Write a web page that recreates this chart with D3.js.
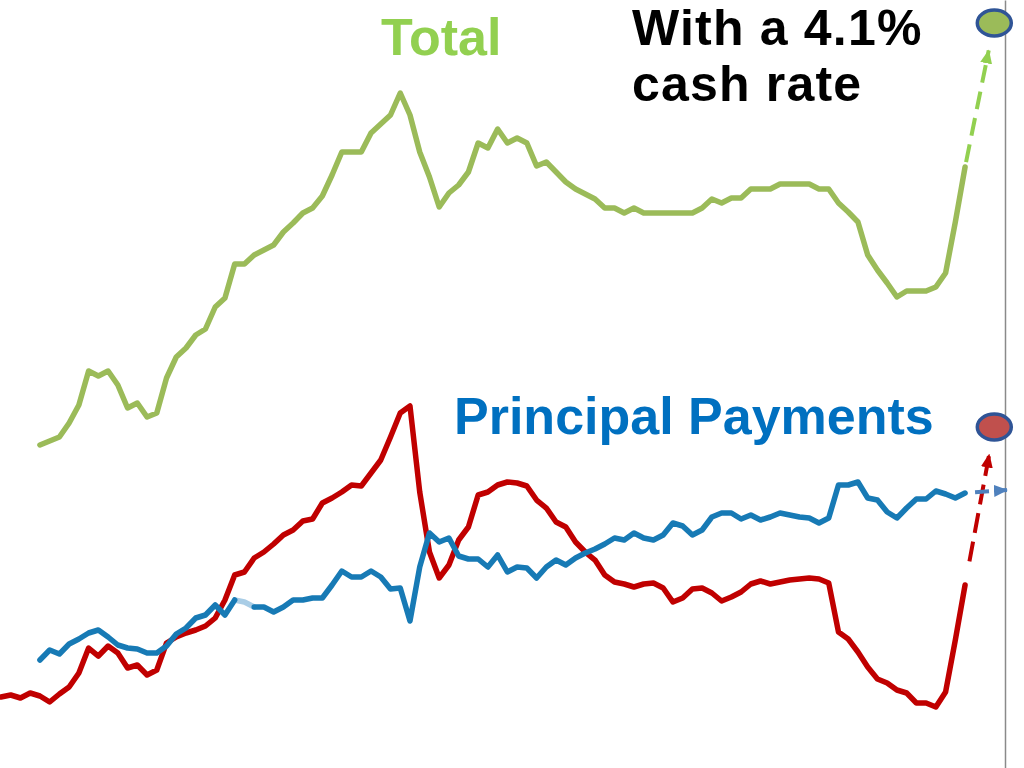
<!DOCTYPE html>
<html>
<head>
<meta charset="utf-8">
<script src="https://cdn.jsdelivr.net/npm/d3@7"></script>
<style>
  body { margin: 0; background: #fff; }
  svg { display: block; }
</style>
</head>
<body>
<div id="chart"></div>
<script>
// household debt servicing, % of income, one value per quarter
// quarter 0 = first quarter of the total / principal series,
// the interest series starts 4 quarters earlier
var interestStart = -4;

var total = [
  9.30, 9.38, 9.46, 9.74, 10.10, 10.78, 10.68, 10.78, 10.50, 10.04,
  10.14, 9.86, 9.94, 10.64, 11.06, 11.24, 11.50, 11.62, 12.06, 12.24,
  12.92, 12.92, 13.10, 13.20, 13.30, 13.56, 13.74, 13.94, 14.04, 14.28,
  14.70, 15.16, 15.16, 15.16, 15.54, 15.72, 15.90, 16.34, 15.90, 15.16,
  14.66, 14.06, 14.34, 14.50, 14.76, 15.34, 15.24, 15.62, 15.34, 15.44,
  15.34, 14.88, 14.96, 14.76, 14.56, 14.42, 14.32, 14.22, 14.04, 14.04,
  13.94, 14.04, 13.94, 13.94, 13.94, 13.94, 13.94, 13.94, 14.04, 14.22,
  14.14, 14.24, 14.24, 14.42, 14.42, 14.42, 14.52, 14.52, 14.52, 14.52,
  14.42, 14.42, 14.14, 13.96, 13.76, 13.10, 12.80, 12.54, 12.26, 12.38,
  12.38, 12.38, 12.46, 12.74, 13.76, 14.86
];

var interest = [
  4.26, 4.30, 4.24, 4.34,
  4.28, 4.16, 4.32, 4.46, 4.74, 5.24, 5.08, 5.28, 5.14, 4.84,
  4.90, 4.70, 4.80, 5.34, 5.46, 5.54, 5.60, 5.68, 5.84, 6.20,
  6.70, 6.76, 7.04, 7.16, 7.32, 7.50, 7.60, 7.78, 7.82, 8.14,
  8.24, 8.36, 8.50, 8.48, 8.74, 9.00, 9.46, 9.94, 10.08, 8.36,
  7.16, 6.64, 6.90, 7.40, 7.66, 8.30, 8.36, 8.50, 8.56, 8.54,
  8.48, 8.20, 8.04, 7.76, 7.66, 7.36, 7.16, 7.00, 6.70, 6.56,
  6.52, 6.46, 6.52, 6.54, 6.44, 6.16, 6.24, 6.42, 6.44, 6.34,
  6.18, 6.26, 6.36, 6.52, 6.58, 6.52, 6.56, 6.60, 6.62, 6.64,
  6.62, 6.54, 5.56, 5.42, 5.16, 4.86, 4.62, 4.54, 4.40, 4.34,
  4.14, 4.14, 4.06, 4.36, 5.40, 6.50
];

var principal = [
  5.00, 5.20, 5.12, 5.32, 5.42, 5.54, 5.60, 5.46, 5.30, 5.24,
  5.22, 5.14, 5.14, 5.28, 5.52, 5.64, 5.84, 5.90, 6.10, 5.90,
  6.20, 6.16, 6.06, 6.06, 5.96, 6.06, 6.20, 6.20, 6.24, 6.24,
  6.50, 6.78, 6.66, 6.66, 6.78, 6.66, 6.42, 6.44, 5.78, 6.86,
  7.54, 7.36, 7.44, 7.08, 7.02, 7.02, 6.86, 7.10, 6.76, 6.86,
  6.84, 6.64, 6.86, 7.00, 6.90, 7.04, 7.14, 7.22, 7.32, 7.44,
  7.40, 7.54, 7.44, 7.40, 7.50, 7.74, 7.68, 7.50, 7.60, 7.86,
  7.94, 7.94, 7.82, 7.90, 7.80, 7.86, 7.94, 7.90, 7.86, 7.84,
  7.74, 7.84, 8.50, 8.50, 8.56, 8.24, 8.20, 7.96, 7.84, 8.04,
  8.22, 8.22, 8.38, 8.32, 8.24, 8.34
];

// quarters where the principal series has a break (drawn pale)
var principalBreak = [20, 22];

// projections with a 4.1% cash rate
var projQuarter = 98;
var projTotal = 17.74;
var projInterest = 9.66;
var principalProjQuarter = 99.3;
var projPrincipal = 8.40;

var width = 1024, height = 768;

var svg = d3.select("#chart")
  .append("svg")
    .attr("width", width)
    .attr("height", height);

var x = d3.scaleLinear()
  .domain([-4.1, 99.1])
  .range([0, 1005]);

var y = d3.scaleLinear()
  .domain([0, 18.2])
  .range([910, 0]);

// right hand axis line
svg.append("g")
  .attr("transform", "translate(" + x(99.1) + ",0)")
  .call(d3.axisLeft(y).tickValues([]).tickSizeOuter(0))
  .select(".domain")
    .attr("stroke", "#8a8a8a")
    .attr("stroke-width", 1.5);

// arrow heads
var defs = svg.append("defs");
function marker(id, color) {
  defs.append("marker")
    .attr("id", id)
    .attr("viewBox", "0 -6 14 12")
    .attr("refX", 13)
    .attr("refY", 0)
    .attr("markerUnits", "userSpaceOnUse")
    .attr("markerWidth", 14)
    .attr("markerHeight", 12)
    .attr("orient", "auto")
    .append("path")
      .attr("d", "M0,-6L14,0L0,6Z")
      .attr("fill", color);
}
marker("arrGreen", "#92d050");
marker("arrRed", "#c00000");
marker("arrBlue", "#4f81bd");

var line = d3.line()
  .x(function(d) { return x(d.q); })
  .y(function(d) { return y(d.v); });

function series(values, start) {
  return values.map(function(v, i) { return { q: start + i, v: v }; });
}

var totalData = series(total, 0);
var interestData = series(interest, interestStart);
var principalData = series(principal, 0);

function drawLine(data, color) {
  svg.append("path")
    .datum(data)
    .attr("fill", "none")
    .attr("stroke", color)
    .attr("stroke-width", 5.5)
    .attr("stroke-linejoin", "round")
    .attr("stroke-linecap", "round")
    .attr("d", line);
}

drawLine(totalData, "#9bbb59");
drawLine(interestData, "#c00000");

// principal: pale across the break
drawLine(principalData.filter(function(d) { return d.q >= principalBreak[0] && d.q <= principalBreak[1]; }), "#a9cde6");
drawLine(principalData.filter(function(d) { return d.q <= principalBreak[0]; }), "#177ab5");
drawLine(principalData.filter(function(d) { return d.q >= principalBreak[1]; }), "#177ab5");

// dashed projection arrows
function projArrow(from, toQ, toV, startGap, endGap, color, dash, markerId) {
  var x0 = x(from.q), y0 = y(from.v), x1 = x(toQ), y1 = y(toV);
  var len = Math.sqrt((x1 - x0) * (x1 - x0) + (y1 - y0) * (y1 - y0));
  var ux = (x1 - x0) / len, uy = (y1 - y0) / len;
  svg.append("line")
    .attr("x1", x0 + ux * startGap)
    .attr("y1", y0 + uy * startGap)
    .attr("x2", x1 - ux * endGap)
    .attr("y2", y1 - uy * endGap)
    .attr("stroke", color)
    .attr("stroke-width", 4)
    .attr("stroke-dasharray", dash)
    .attr("marker-end", "url(#" + markerId + ")");
}

var lastTotal = totalData[totalData.length - 1];
var lastInterest = interestData[interestData.length - 1];
var lastPrincipal = principalData[principalData.length - 1];

projArrow(lastTotal, projQuarter, projTotal, 5, 28, "#92d050", "18,9", "arrGreen");
projArrow(lastInterest, projQuarter, projInterest, 24, 28, "#c00000", "20,9", "arrRed");
projArrow(lastPrincipal, principalProjQuarter, projPrincipal, 10, 0, "#4f81bd", "14,6", "arrBlue");

// projected points
svg.append("ellipse")
  .attr("cx", x(projQuarter))
  .attr("cy", y(projTotal))
  .attr("rx", 17)
  .attr("ry", 13)
  .attr("fill", "#9bbb59")
  .attr("stroke", "#2f5496")
  .attr("stroke-width", 3.5);

svg.append("ellipse")
  .attr("cx", x(projQuarter))
  .attr("cy", y(projInterest))
  .attr("rx", 17)
  .attr("ry", 13)
  .attr("fill", "#c0504d")
  .attr("stroke", "#2f5496")
  .attr("stroke-width", 3.5);

// labels
function label(text, lx, ly, color, size, spacing) {
  svg.append("text")
    .attr("x", lx)
    .attr("y", ly)
    .style("font-family", "'Liberation Sans', Arial, sans-serif")
    .style("font-weight", "bold")
    .style("font-size", size + "px")
    .style("letter-spacing", spacing + "px")
    .style("fill", color)
    .text(text);
}

label("Total", 381, 55, "#92d050", 52, 0);
label("With a 4.1%", 632, 45, "#000000", 50, 1.2);
label("cash rate", 632, 101, "#000000", 50, 1.2);
label("Principal Payments", 454, 434, "#0070c0", 52, 0);
</script>
</body>
</html>
